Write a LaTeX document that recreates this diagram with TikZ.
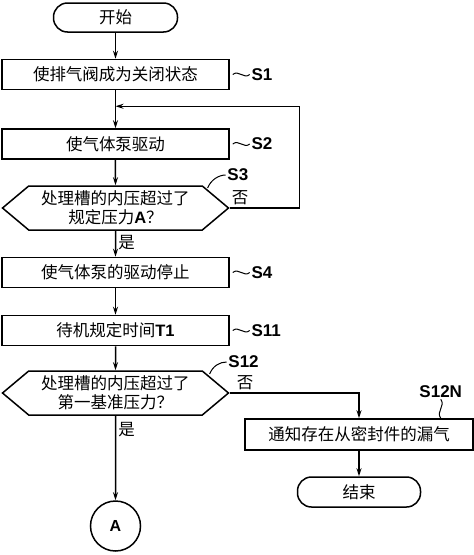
\documentclass[tikz,border=0pt]{standalone}
\usepackage{fontspec}
\setsansfont{Liberation Sans}
\newfontfamily\cjk{Noto Sans CJK SC}
\usetikzlibrary{shapes, arrows.meta, positioning}
\tikzstyle{startstop} = [rectangle, rounded corners=14pt, minimum width=124pt, minimum height=29pt, text centered, draw=black]
\tikzstyle{process} = [rectangle, minimum width=227pt, minimum height=30pt, text centered, draw=black]
\tikzstyle{decision} = [signal, signal to=west and east, signal pointer angle=80, minimum width=226pt, minimum height=44pt, inner sep=1pt, text centered, draw=black]
\tikzstyle{connector} = [circle, minimum size=50pt, draw=black, font=\sffamily\bfseries\fontsize{16}{19}\selectfont]
\tikzstyle{steplabel} = [inner sep=1pt, font=\sffamily\bfseries\fontsize{17}{20}\selectfont]
\tikzstyle{answer} = [inner sep=2pt]
\tikzstyle{arrow} = [-{Stealth[length=8pt, width=5pt]}]

\begin{document}
\begin{tikzpicture}[align=center, line width=1.5pt, font=\cjk\fontsize{16.5}{19}\selectfont]
    \useasboundingbox (0,0) rectangle (474pt,-555pt);
    \node (start) [startstop] at (115.5pt,-17.5pt) {开始};
    \node (s1) [process, node distance=57pt, below of=start] {使排气阀成为关闭状态};
    \node (s2) [process, node distance=69.5pt, below of=s1] {使气体泵驱动};
    \node (s3) [decision, node distance=64pt, below of=s2] {处理槽的内压超过了\\规定压力{\sffamily\bfseries A}？};
    \node (s4) [process, node distance=64.5pt, below of=s3] {使气体泵的驱动停止};
    \node (s11) [process, node distance=58pt, below of=s4] {待机规定时间{\sffamily\bfseries T1}};
    \node (s12) [decision, node distance=62.5pt, below of=s11] {处理槽的内压超过了\\第一基准压力？};
    \node (a) [connector, node distance=133pt, below of=s12] {A};
    \node (s12n) [process, minimum width=228pt, minimum height=31pt] at (359pt,-434.5pt) {通知存在从密封件的漏气};
    \node (end) [startstop, minimum width=123pt, minimum height=30pt, node distance=57.5pt, below of=s12n] {结束};

    % step numbers
    \node (l1) [steplabel, right=20pt of s1] {S1};
    \node (l2) [steplabel, right=20pt of s2] {S2};
    \node (l4) [steplabel, right=20pt of s4] {S4};
    \node (l11) [steplabel, right=20pt of s11] {S11};
    \node (l3) [steplabel, anchor=west, xshift=-4pt, yshift=33pt] at (s3.east) {S3};
    \node (l12) [steplabel, anchor=west, xshift=-3pt, yshift=31pt] at (s12.east) {S12};
    \node (l12n) [steplabel, anchor=south, xshift=-33pt, yshift=19pt] at (s12n.north east) {S12N};

    \foreach \s/\l in {s1/l1, s2/l2, s4/l4, s11/l11}
        \draw [line width=1pt] ([xshift=3pt]\s.east) .. controls +(6pt,5pt) and +(-6pt,-5pt) .. (\l.west);
    \draw [line width=1pt] ([xshift=-22pt, yshift=20pt]s3.east) .. controls +(3pt,8pt) and +(-7pt,0pt) .. (l3.west);
    \draw [line width=1pt] ([xshift=-20pt, yshift=19pt]s12.east) .. controls +(3pt,8pt) and +(-7pt,0pt) .. (l12.west);
    \draw [line width=1pt] ([xshift=-33pt]s12n.north east) .. controls +(-5pt,7pt) and +(5pt,-7pt) .. (l12n.south);

    \draw [arrow] (start) -- (s1);
    \draw [arrow] (s1) -- (s2);
    \draw [arrow] (s2) -- (s3);
    \draw [arrow] (s3) -- node[answer, right, pos=0.45] {是} (s4);
    \draw [arrow] (s4) -- (s11);
    \draw [arrow] (s11) -- (s12);
    \draw [arrow] (s12) -- node[answer, right, pos=0.16] {是} (a);
    \coordinate (back) at ([yshift=22pt]s2.north);
    \draw [arrow] (s3.east) -- node[answer, above, pos=0.15] {否} ++(70pt,0) |- (back);
    \draw [arrow] (s12.east) -| node[answer, above, pos=0.06] {否} (s12n.north);
    \draw [arrow] (s12n) -- (end);
\end{tikzpicture}
\end{document}
